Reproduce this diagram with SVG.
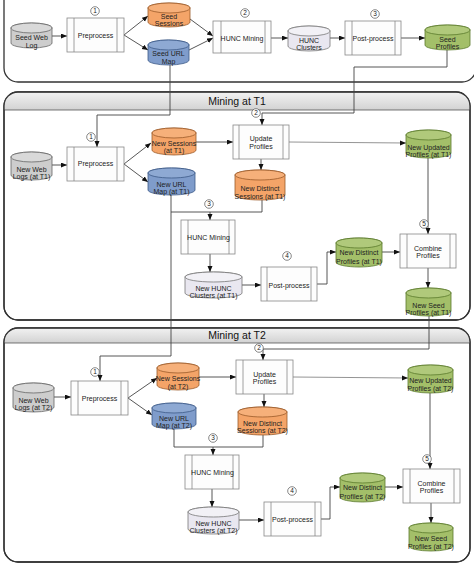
<svg xmlns="http://www.w3.org/2000/svg" width="474" height="569" viewBox="0 0 474 569">
<style>
text{font-family:"Liberation Sans",Arial,sans-serif;font-size:7px;fill:#222;text-anchor:middle}
.title{font-size:10.5px;fill:#111}
.num{font-size:6.5px}
.cont{fill:#fff;stroke:#333;stroke-width:1.3}
.hdr{fill:url(#hg);stroke:#555;stroke-width:0.8}
.box rect{fill:#fdfdfd;stroke:#888;stroke-width:0.8}
.box line{stroke:#888;stroke-width:0.8}
.cyl .b,.cyl .t{stroke-width:0.8}
.gray .b{fill:#cdcdcd;stroke:#666}.gray .t{fill:#d9d9d9;stroke:#666}
.orange .b{fill:#f4a468;stroke:#9a5a2a}.orange .t{fill:#f6b07a;stroke:#9a5a2a}
.blue .b{fill:#7f9ccb;stroke:#3d5a88}.blue .t{fill:#8ea9d3;stroke:#3d5a88}
.green .b{fill:#a3bf69;stroke:#5b7a2c}.green .t{fill:#b0c97b;stroke:#5b7a2c}
.lav .b{fill:#e9e7f0;stroke:#777}.lav .t{fill:#f2f1f6;stroke:#777}
.circ circle{fill:#fff;stroke:#555;stroke-width:0.7}
#connectors path,#connectors line{fill:none;stroke:#444;stroke-width:0.9}
#connectors .a{marker-end:url(#arr)}
#connectors .g{stroke:#888}
</style>
<defs>
<linearGradient id="hg" x1="0" y1="0" x2="0" y2="1"><stop offset="0" stop-color="#f2f2f2"/><stop offset="1" stop-color="#d2d2d2"/></linearGradient>
<marker id="arr" markerUnits="userSpaceOnUse" markerWidth="7" markerHeight="6" refX="6" refY="2.5" orient="auto"><path d="M0,0 L6,2.5 L0,5 Z" fill="#111"/></marker>
<clipPath id="c1"><rect x="4" y="92" width="466" height="228" rx="14"/></clipPath>
<clipPath id="c2"><rect x="4" y="328" width="466" height="234" rx="14"/></clipPath>
</defs>

<g id="section-seed">
<rect class="cont" x="4" y="-30" width="472" height="112" rx="14"/>
</g>
<g id="section-t1">
<rect class="cont" x="4" y="92" width="466" height="228" rx="14"/>
<rect class="hdr" x="0" y="92" width="474" height="18" clip-path="url(#c1)"/>
<rect x="4" y="92" width="466" height="228" rx="14" fill="none" stroke="#333" stroke-width="1.3"/>
<text class="title" x="237" y="104.5">Mining at T1</text>
</g>
<g id="section-t2">
<rect class="cont" x="4" y="328" width="466" height="234" rx="14"/>
<rect class="hdr" x="0" y="328" width="474" height="15" clip-path="url(#c2)"/>
<rect x="4" y="328" width="466" height="234" rx="14" fill="none" stroke="#333" stroke-width="1.3"/>
<text class="title" x="237" y="339">Mining at T2</text>
</g>

<g id="connectors">
<line class="a" x1="52" y1="36" x2="67" y2="36"/>
<line class="a" x1="124" y1="35" x2="148" y2="16"/>
<line class="a" x1="124" y1="35" x2="148" y2="50"/>
<line class="a" x1="190" y1="19" x2="213" y2="36"/>
<line class="a" x1="189" y1="50" x2="213" y2="38"/>
<line class="a" x1="271" y1="38" x2="288" y2="38"/>
<line class="a" x1="330" y1="38" x2="345" y2="38"/>
<line class="a" x1="401" y1="38" x2="425" y2="38"/>
<path class="a" d="M170,65 V115 H97 V147"/>
<path class="a" d="M447,50 V67 H354 V113 H262 V125"/>

<line class="a" x1="52" y1="165" x2="67" y2="165"/>
<line class="a" x1="124" y1="164" x2="151" y2="143"/>
<line class="a" x1="124" y1="164" x2="148" y2="182"/>
<line class="a" x1="196" y1="142" x2="233" y2="142"/>
<line class="a" x1="261" y1="159" x2="261" y2="170"/>
<line class="a g" x1="289" y1="142" x2="406" y2="143"/>
<path d="M171,195 V356 H100"/>
<path class="a" d="M100,356 V381"/>
<path d="M171,212 H262 V200"/>
<line class="a" x1="210" y1="212" x2="210" y2="220"/>
<line class="a" x1="210" y1="254" x2="210" y2="272"/>
<line class="a" x1="242" y1="285" x2="261" y2="285"/>
<path class="a" d="M317,284 H327 V252 H336"/>
<line class="a" x1="382" y1="252" x2="400" y2="252"/>
<line class="a" x1="428" y1="158" x2="428" y2="234"/>
<line class="a" x1="428" y1="268" x2="428" y2="288"/>
<path class="a" d="M429,316 V349 H263 V360"/>

<line class="a" x1="54" y1="397" x2="71" y2="397"/>
<line class="a" x1="128" y1="398" x2="157" y2="378"/>
<line class="a" x1="128" y1="398" x2="152" y2="415"/>
<line class="a" x1="199" y1="377" x2="236" y2="377"/>
<line class="a" x1="264" y1="394" x2="264" y2="407"/>
<line class="a g" x1="293" y1="377" x2="408" y2="378"/>
<path d="M174,429 V447 H263 V435"/>
<line class="a" x1="213" y1="447" x2="213" y2="455"/>
<line class="a" x1="212" y1="489" x2="212" y2="507"/>
<line class="a" x1="239" y1="520" x2="264" y2="520"/>
<path class="a" d="M321,519 H330 V487 H340"/>
<line class="a" x1="385" y1="487" x2="403" y2="487"/>
<line class="a" x1="430" y1="393" x2="430" y2="469"/>
<line class="a" x1="431" y1="503" x2="431" y2="523"/>
</g>

<!-- Top section nodes -->
<g id="seed-web-log" class="cyl gray"><path class="b" d="M11,28 V43 A20.5,5 0 0 0 52,43 V28 A20.5,5 0 0 0 11,28 Z"/><ellipse class="t" cx="31.5" cy="28" rx="20.5" ry="5"/><text x="31.5" y="39.5">Seed Web</text><text x="31.5" y="47.5">Log</text></g>
<g id="preprocess-0" class="box"><rect x="67" y="18" width="57" height="34"/><line x1="74" y1="18" x2="74" y2="52"/><line x1="117" y1="18" x2="117" y2="52"/><text x="95.5" y="37.5">Preprocess</text></g>
<g id="seed-sessions" class="cyl orange"><path class="b" d="M148,8 V22 A21,5 0 0 0 190,22 V8 A21,5 0 0 0 148,8 Z"/><ellipse class="t" cx="169" cy="8" rx="21" ry="5"/><text x="169" y="18.5">Seed</text><text x="169" y="25.5">Sessions</text></g>
<g id="seed-url-map" class="cyl blue"><path class="b" d="M148,45 V60 A20.5,5 0 0 0 189,60 V45 A20.5,5 0 0 0 148,45 Z"/><ellipse class="t" cx="168.5" cy="45" rx="20.5" ry="5"/><text x="168.5" y="55.5">Seed URL</text><text x="168.5" y="63.5">Map</text></g>
<g id="hunc-mining-0" class="box"><rect x="213" y="21" width="58" height="32"/><line x1="221" y1="21" x2="221" y2="53"/><line x1="265" y1="21" x2="265" y2="53"/><text x="242" y="40.5">HUNC Mining</text></g>
<g id="hunc-clusters" class="cyl lav"><path class="b" d="M288,31 V46 A21,5 0 0 0 330,46 V31 A21,5 0 0 0 288,31 Z"/><ellipse class="t" cx="309" cy="31" rx="21" ry="5"/><text x="309" y="42.5">HUNC</text><text x="309" y="49.5">Clusters</text></g>
<g id="post-process-0" class="box"><rect x="345" y="21" width="56" height="34"/><line x1="352" y1="21" x2="352" y2="55"/><line x1="395" y1="21" x2="395" y2="55"/><text x="373" y="40.5">Post-process</text></g>
<g id="seed-profiles" class="cyl green"><path class="b" d="M425,30 V45 A22.5,5 0 0 0 470,45 V30 A22.5,5 0 0 0 425,30 Z"/><ellipse class="t" cx="447.5" cy="30" rx="22.5" ry="5"/><text x="447.5" y="41.5">Seed</text><text x="447.5" y="49">Profiles</text></g>
<g class="circ"><circle cx="95" cy="11" r="4.3"/><text class="num" x="95" y="13.3">1</text></g>
<g class="circ"><circle cx="245" cy="13" r="4.3"/><text class="num" x="245" y="15.3">2</text></g>
<g class="circ"><circle cx="375" cy="14" r="4.3"/><text class="num" x="375" y="16.3">3</text></g>

<!-- T1 nodes -->
<g id="web-logs-t1" class="cyl gray"><path class="b" d="M11,157 V175 A20.5,5 0 0 0 52,175 V157 A20.5,5 0 0 0 11,157 Z"/><ellipse class="t" cx="31.5" cy="157" rx="20.5" ry="5"/><text x="31.5" y="171.5">New Web</text><text x="31.5" y="178.5">Logs (at T1)</text></g>
<g id="preprocess-t1" class="box"><rect x="67" y="147" width="57" height="34"/><line x1="74" y1="147" x2="74" y2="181"/><line x1="117" y1="147" x2="117" y2="181"/><text x="95.5" y="165.5">Preprocess</text></g>
<g id="sessions-t1" class="cyl orange"><path class="b" d="M152,133 V150 A22,5 0 0 0 196,150 V133 A22,5 0 0 0 152,133 Z"/><ellipse class="t" cx="174" cy="133" rx="22" ry="5"/><text x="174" y="145.5">New Sessions</text><text x="174" y="153">(at T1)</text></g>
<g id="url-map-t1" class="cyl blue"><path class="b" d="M148,173 V190 A23.5,5 0 0 0 195,190 V173 A23.5,5 0 0 0 148,173 Z"/><ellipse class="t" cx="171.5" cy="173" rx="23.5" ry="5"/><text x="171.5" y="186.5">New URL</text><text x="171.5" y="194">Map (at T1)</text></g>
<g id="update-profiles-t1" class="box"><rect x="233" y="125" width="56" height="34"/><line x1="239" y1="125" x2="239" y2="159"/><line x1="283" y1="125" x2="283" y2="159"/><text x="261" y="140.5">Update</text><text x="261" y="148.5">Profiles</text></g>
<g id="distinct-sessions-t1" class="cyl orange"><path class="b" d="M235,175 V195 A25,5 0 0 0 285,195 V175 A25,5 0 0 0 235,175 Z"/><ellipse class="t" cx="260" cy="175" rx="25" ry="5"/><text x="260" y="191">New Distinct</text><text x="260" y="198.5">Sessions (at T1)</text></g>
<g id="updated-profiles-t1" class="cyl green"><path class="b" d="M406,135 V153 A22.5,5 0 0 0 451,153 V135 A22.5,5 0 0 0 406,135 Z"/><ellipse class="t" cx="428.5" cy="135" rx="22.5" ry="5"/><text x="428.5" y="149.5">New Updated</text><text x="428.5" y="156.5">Profiles (at T1)</text></g>
<g id="hunc-mining-t1" class="box"><rect x="181" y="220" width="54" height="34"/><line x1="188" y1="220" x2="188" y2="254"/><line x1="229" y1="220" x2="229" y2="254"/><text x="208.5" y="239.5">HUNC Mining</text></g>
<g id="hunc-clusters-t1" class="cyl lav"><path class="b" d="M185,277 V293 A28.5,5 0 0 0 242,293 V277 A28.5,5 0 0 0 185,277 Z"/><ellipse class="t" cx="213.5" cy="277" rx="28.5" ry="5"/><text x="213.5" y="290.5">New HUNC</text><text x="213.5" y="297.5">Clusters (at T1)</text></g>
<g id="post-process-t1" class="box"><rect x="261" y="267" width="56" height="34"/><line x1="267" y1="267" x2="267" y2="301"/><line x1="311" y1="267" x2="311" y2="301"/><text x="289" y="287.5">Post-process</text></g>
<g id="distinct-profiles-t1" class="cyl green"><path class="b" d="M336,243 V262 A23,5 0 0 0 382,262 V243 A23,5 0 0 0 336,243 Z"/><ellipse class="t" cx="359" cy="243" rx="23" ry="5"/><text x="359" y="254.5">New Distinct</text><text x="359" y="263.5">Profiles (at T1)</text></g>
<g id="combine-t1" class="box"><rect x="400" y="234" width="56" height="34"/><line x1="407" y1="234" x2="407" y2="268"/><line x1="450" y1="234" x2="450" y2="268"/><text x="428" y="250.5">Combine</text><text x="428" y="257.5">Profiles</text></g>
<g id="seed-profiles-t1" class="cyl green"><path class="b" d="M406,293 V311 A22.5,5 0 0 0 451,311 V293 A22.5,5 0 0 0 406,293 Z"/><ellipse class="t" cx="428.5" cy="293" rx="22.5" ry="5"/><text x="428.5" y="307.5">New Seed</text><text x="428.5" y="314.5">Profiles (at T1)</text></g>
<g class="circ"><circle cx="91" cy="137" r="4.3"/><text class="num" x="91" y="139.3">1</text></g>
<g class="circ"><circle cx="256" cy="113" r="4.3"/><text class="num" x="256" y="115.3">2</text></g>
<g class="circ"><circle cx="209" cy="204" r="4.3"/><text class="num" x="209" y="206.3">3</text></g>
<g class="circ"><circle cx="287" cy="256" r="4.3"/><text class="num" x="287" y="258.3">4</text></g>
<g class="circ"><circle cx="424" cy="224" r="4.3"/><text class="num" x="424" y="226.3">5</text></g>

<!-- T2 nodes -->
<g id="web-logs-t2" class="cyl gray"><path class="b" d="M13,388 V407 A20.5,5 0 0 0 54,407 V388 A20.5,5 0 0 0 13,388 Z"/><ellipse class="t" cx="33.5" cy="388" rx="20.5" ry="5"/><text x="33.5" y="403">New Web</text><text x="33.5" y="410">Logs (at T2)</text></g>
<g id="preprocess-t2" class="box"><rect x="71" y="381" width="57" height="34"/><line x1="78" y1="381" x2="78" y2="415"/><line x1="121" y1="381" x2="121" y2="415"/><text x="99.5" y="400.5">Preprocess</text></g>
<g id="sessions-t2" class="cyl orange"><path class="b" d="M157,368 V385 A21,5 0 0 0 199,385 V368 A21,5 0 0 0 157,368 Z"/><ellipse class="t" cx="178" cy="368" rx="21" ry="5"/><text x="178" y="381">New Sessions</text><text x="178" y="389">(at T2)</text></g>
<g id="url-map-t2" class="cyl blue"><path class="b" d="M152,408 V424 A22,5 0 0 0 196,424 V408 A22,5 0 0 0 152,408 Z"/><ellipse class="t" cx="174" cy="408" rx="22" ry="5"/><text x="174" y="421">New URL</text><text x="174" y="428">Map (at T2)</text></g>
<g id="update-profiles-t2" class="box"><rect x="236" y="360" width="57" height="34"/><line x1="243" y1="360" x2="243" y2="394"/><line x1="287" y1="360" x2="287" y2="394"/><text x="264.5" y="376.5">Update</text><text x="264.5" y="383.5">Profiles</text></g>
<g id="distinct-sessions-t2" class="cyl orange"><path class="b" d="M238,412 V430 A24.5,5 0 0 0 287,430 V412 A24.5,5 0 0 0 238,412 Z"/><ellipse class="t" cx="262.5" cy="412" rx="24.5" ry="5"/><text x="262.5" y="425.5">New Distinct</text><text x="262.5" y="433">Sessions (at T2)</text></g>
<g id="updated-profiles-t2" class="cyl green"><path class="b" d="M408,370 V388 A22.5,5 0 0 0 453,388 V370 A22.5,5 0 0 0 408,370 Z"/><ellipse class="t" cx="430.5" cy="370" rx="22.5" ry="5"/><text x="430.5" y="382.5">New Updated</text><text x="430.5" y="390.5">Profiles (at T2)</text></g>
<g id="hunc-mining-t2" class="box"><rect x="185" y="455" width="54" height="34"/><line x1="192" y1="455" x2="192" y2="489"/><line x1="233" y1="455" x2="233" y2="489"/><text x="212.5" y="474.5">HUNC Mining</text></g>
<g id="hunc-clusters-t2" class="cyl lav"><path class="b" d="M188,512 V529 A25.5,5 0 0 0 239,529 V512 A25.5,5 0 0 0 188,512 Z"/><ellipse class="t" cx="213.5" cy="512" rx="25.5" ry="5"/><text x="213.5" y="526">New HUNC</text><text x="213.5" y="533">Clusters (at T2)</text></g>
<g id="post-process-t2" class="box"><rect x="264" y="502" width="57" height="34"/><line x1="271" y1="502" x2="271" y2="536"/><line x1="315" y1="502" x2="315" y2="536"/><text x="292.5" y="521.5">Post-process</text></g>
<g id="distinct-profiles-t2" class="cyl green"><path class="b" d="M340,478 V497 A22.5,5 0 0 0 385,497 V478 A22.5,5 0 0 0 340,478 Z"/><ellipse class="t" cx="362.5" cy="478" rx="22.5" ry="5"/><text x="362.5" y="490">New Distinct</text><text x="362.5" y="499">Profiles (at T2)</text></g>
<g id="combine-t2" class="box"><rect x="403" y="469" width="57" height="34"/><line x1="410" y1="469" x2="410" y2="503"/><line x1="454" y1="469" x2="454" y2="503"/><text x="431.5" y="485.5">Combine</text><text x="431.5" y="492.5">Profiles</text></g>
<g id="seed-profiles-t2" class="cyl green"><path class="b" d="M409,528 V546 A22,5 0 0 0 453,546 V528 A22,5 0 0 0 409,528 Z"/><ellipse class="t" cx="431" cy="528" rx="22" ry="5"/><text x="431" y="541">New Seed</text><text x="431" y="549">Profiles (at T2)</text></g>
<g class="circ"><circle cx="95" cy="372" r="4.3"/><text class="num" x="95" y="374.3">1</text></g>
<g class="circ"><circle cx="259" cy="348" r="4.3"/><text class="num" x="259" y="350.3">2</text></g>
<g class="circ"><circle cx="213" cy="438" r="4.3"/><text class="num" x="213" y="440.3">3</text></g>
<g class="circ"><circle cx="292" cy="491" r="4.3"/><text class="num" x="292" y="493.3">4</text></g>
<g class="circ"><circle cx="427" cy="459" r="4.3"/><text class="num" x="427" y="461.3">5</text></g>
</svg>
